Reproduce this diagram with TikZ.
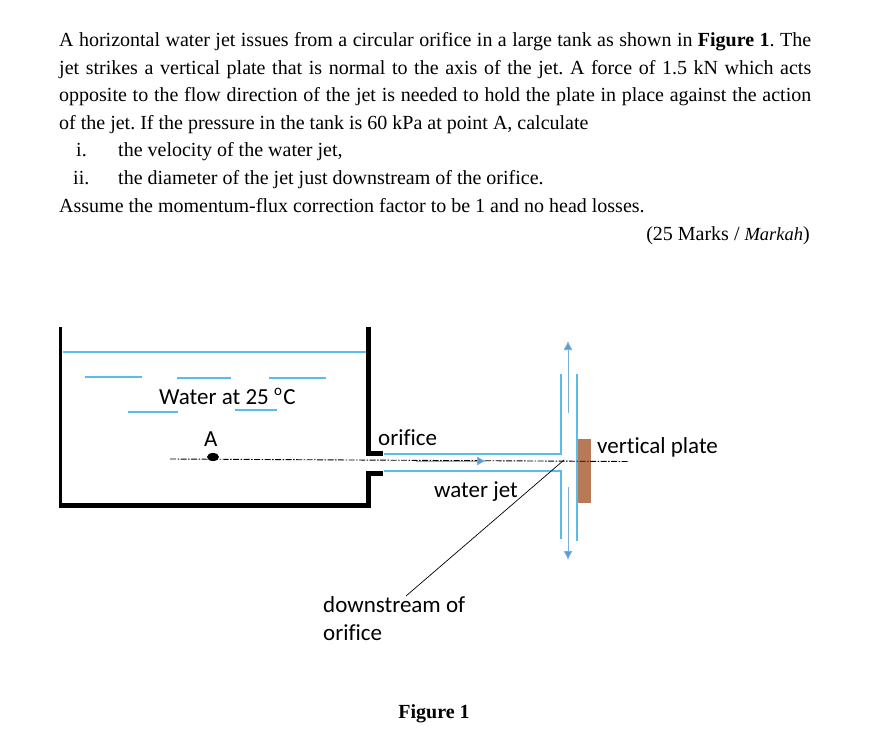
\documentclass[tikz,border=0pt]{standalone}
\usepackage{fontspec}
\setmainfont{Liberation Serif}
\newfontfamily\labelfont[RawFeature={-liga;-clig}]{Carlito}
\usetikzlibrary{arrows.meta}
\definecolor{waterblue}{HTML}{5BBBEA}
\definecolor{arrowblue}{HTML}{5B9BD5}
\definecolor{platebrown}{HTML}{B87A56}
\newcommand{\jline}[1]{\makebox[752pt][s]{#1}}
\frenchspacing
\tikzset{
  para/.style={anchor=base west,inner sep=0pt,font=\fontsize{20pt}{24pt}\selectfont\frenchspacing},
  lab/.style={anchor=base west,inner sep=0pt,font=\labelfont\fontsize{23pt}{27pt}\selectfont},
  wall/.style={draw=black,line width=5pt,line cap=butt,line join=miter},
  water/.style={draw=waterblue,line width=1.2pt},
  flow/.style={draw=arrowblue!80,line width=0.8pt,-{Latex[length=9pt,width=9pt,fill=arrowblue]}},
  axis/.style={draw=black,line width=0.9pt,dash pattern=on 6pt off 1.5pt on 1.5pt off 1.5pt},
  leader/.style={draw=black,line width=0.7pt}
}
\begin{document}
\begin{tikzpicture}[x=1pt,y=-1pt]
\useasboundingbox (0,0) rectangle (888,741);
\fill[white] (0,0) rectangle (888,741);
% text
\node[para] (l1) at (59,47) {\jline{A horizontal water jet issues from a circular orifice in a large tank as shown in \textbf{Figure 1}. The}};
\node[para] (l2) at (59,74.5) {\jline{jet strikes a vertical plate that is normal to the axis of the jet. A force of 1.5 kN which acts}};
\node[para] (l3) at (59,102) {\jline{opposite to the flow direction of the jet is needed to hold the plate in place against the action}};
\node[para] (l4) at (59,129.5) {of the jet. If the pressure in the tank is 60 kPa at point A, calculate};
\node[para] (n1) at (76,157) {i.};
\node[para] (l5) at (118,157) {the velocity of the water jet,};
\node[para] (n2) at (73,184.5) {ii.};
\node[para] (l6) at (118,184.5) {the diameter of the jet just downstream of the orifice.};
\node[para] (l7) at (59,212) {Assume the momentum-flux correction factor to be 1 and no head losses.};
\node[para,anchor=base east] (marks) at (810,240) {(25 Marks / {\itshape\fontsize{18.5pt}{20pt}\selectfont Markah})};
% plate
\fill[platebrown] (578,439) rectangle (591,503);
% tank
\draw[line width=3pt,draw=black] (60,327) -- (60,506);
\draw[wall] (58.5,505.5) -- (368,505.5) -- (368,473.5) -- (383,473.5);
\draw[wall] (368,327) -- (368,453) -- (383,453);
% water
\draw[water] (63,352) -- (366,352);
\draw[water] (85,377) -- (142,377);
\draw[water] (177,378) -- (231,378);
\draw[water] (269,378) -- (326,378);
\draw[water] (128,412) -- (178,412);
\draw[water] (235,410) -- (277,410);
% jet
\draw[water] (384,454) -- (561,454) -- (561,374);
\draw[water] (384,471) -- (561,471) -- (561,539);
\draw[water] (577,374) -- (577,541);
% axis
\coordinate (axisL) at (170,459);
\coordinate (axisR) at (628,461.5);
\draw[axis] (axisL) -- (axisR);
\fill[black] (213,457) ellipse (6 and 4);
% arrows
\coordinate (up0) at (568,413); \coordinate (up1) at (568,341);
\coordinate (dn0) at (568,487); \coordinate (dn1) at (568,560);
\coordinate (jt0) at (416,461); \coordinate (jt1) at (486,461);
\draw[flow] (up0) -- (up1);
\draw[flow] (dn0) -- (dn1);
\draw[flow] (jt0) -- (jt1);
% leader
\coordinate (ld0) at (564,460);
\coordinate (ld1) at (406,596);
\draw[leader] (ld0) -- (ld1);
% labels
\node[lab] (water) at (159,404) {Water at 25 \raisebox{0.35em}{\fontsize{15pt}{16pt}\selectfont o}\kern1.5pt C};
\node[lab] (A) at (204,446) {A};
\node[lab] (orifice) at (378,445) {orifice};
\node[lab] (jet) at (434,497) {water jet};
\node[lab] (plate) at (597,453) {vertical plate};
\node[lab] (ds1) at (323,612) {downstream of};
\node[lab] (ds2) at (323,640) {orifice};
\node[para,font=\bfseries\fontsize{20pt}{24pt}\selectfont,anchor=base] (fig) at (434,718) {Figure 1};
\end{tikzpicture}
\end{document}
